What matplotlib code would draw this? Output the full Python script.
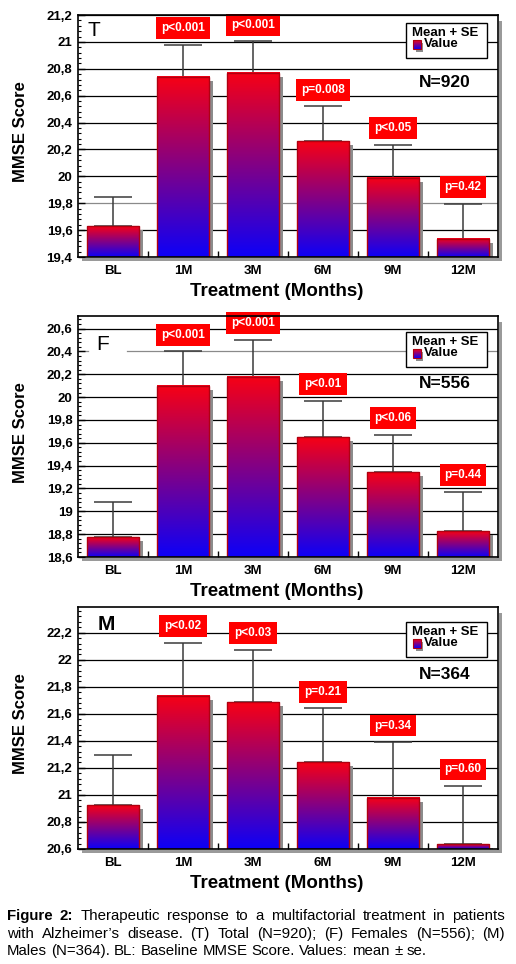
# Figure 2: MMSE score by treatment month, total / females / males

import numpy as np
import matplotlib
matplotlib.use('Agg')
import matplotlib.pyplot as plt
import matplotlib.transforms as mtransforms
from matplotlib.patches import Rectangle
from matplotlib.ticker import MultipleLocator

plt.rcParams['font.family'] = ['Liberation Sans', 'DejaVu Sans']

# Data
months = ['BL', '1M', '3M', '6M', '9M', '12M']

t_mean = [19.63, 20.74, 20.77, 20.26, 19.99, 19.535]
t_se = [0.22, 0.24, 0.235, 0.26, 0.245, 0.26]
t_p = ['', 'p<0.001', 'p<0.001', 'p=0.008', 'p<0.05', 'p=0.42']

f_mean = [18.775, 20.10, 20.18, 19.65, 19.34, 18.825]
f_se = [0.31, 0.30, 0.32, 0.32, 0.33, 0.345]
f_p = ['', 'p<0.001', 'p<0.001', 'p<0.01', 'p<0.06', 'p=0.44']

m_mean = [20.925, 21.735, 21.685, 21.24, 20.98, 20.635]
m_se = [0.37, 0.39, 0.39, 0.40, 0.41, 0.43]
m_p = ['', 'p<0.02', 'p<0.03', 'p=0.21', 'p=0.34', 'p=0.60']

W, H = 516, 964
DPI = 100
fig = plt.figure(figsize=(W / DPI, H / DPI), dpi=DPI)

# red (top) -> blue (bottom) gradient used for the bars
top_c = np.array([0.97, 0.0, 0.08])
bot_c = np.array([0.05, 0.0, 0.97])
tt = np.linspace(0, 1, 256)[:, None]
grad = (bot_c * (1 - tt) + top_c * tt)[:, None, :]


def ylab(v):
    s = f'{v:.1f}'.replace('.', ',')
    return s[:-2] if s.endswith(',0') else s


def panel(top_px, bot_px, means, ses, pvals, ylim, yticks, letter, letter_bold,
          letter_pos, n_text, legend_top, gray_lines):
    left_px, right_px = 78, 498
    ax = fig.add_axes([left_px / W, 1 - bot_px / H,
                       (right_px - left_px) / W, (bot_px - top_px) / H])
    aw, ah = right_px - left_px, bot_px - top_px
    fx = lambda px: px / aw
    fy = lambda px: 1 - px / ah

    x = np.arange(len(months))
    bw = 0.75
    shadow_tr = ax.transData + mtransforms.ScaledTranslation(3.5 / DPI, -4 / DPI, fig.dpi_scale_trans)

    # grid lines
    gray = {g[0]: g[1] for g in gray_lines}
    for yv in yticks:
        if yv <= ylim[0]:
            continue
        if yv in gray:
            for xmin, xmax in gray[yv]:
                ax.axhline(yv, xmin=xmin, xmax=xmax, color='#8a8a8a', lw=0.9, zorder=1)
        else:
            ax.axhline(yv, color='black', lw=0.9, zorder=1)

    for xi, m in zip(x, means):
        ax.add_patch(Rectangle((xi - bw / 2, ylim[0]), bw, m - ylim[0], fc='#8c8c8c',
                               ec='none', transform=shadow_tr, zorder=2))
        ax.imshow(grad, extent=[xi - bw / 2, xi + bw / 2, ylim[0], m], aspect='auto',
                  origin='lower', zorder=3, interpolation='bilinear')
        ax.add_patch(Rectangle((xi - bw / 2, ylim[0]), bw, m - ylim[0], fill=False,
                               ec='#b00010', lw=1.0, zorder=4))

    ax.errorbar(x, means, yerr=[np.zeros(len(means)), ses], fmt='none', ecolor='#3a3a3a',
                elinewidth=1.1, capsize=14, capthick=1.1, zorder=2.5)

    for xi, m, s, p in zip(x, means, ses, pvals):
        if p:
            ax.annotate(p, (xi, m + s), xytext=(0, 12), textcoords='offset points',
                        ha='center', va='center', color='white', fontweight='bold',
                        fontsize=8.5, zorder=6,
                        bbox=dict(boxstyle='square,pad=0.42', fc='#ff0000', ec='none'))

    ax.set_xlim(-0.5, 5.5)
    ax.set_ylim(*ylim)
    ax.set_aspect('auto')

    ax.set_yticks(yticks)
    ax.set_yticklabels([ylab(v) for v in yticks], fontweight='bold', fontsize=9.5)
    ax.yaxis.set_minor_locator(MultipleLocator(0.04))
    ax.tick_params(axis='y', which='major', direction='in', length=5, width=1, pad=4)
    ax.tick_params(axis='y', which='minor', direction='in', length=2.5, width=0.8)
    ax.set_xticks(x)
    ax.set_xticklabels(months, fontweight='bold', fontsize=9.5)
    ax.set_xticks(np.arange(0.5, 5.0, 1.0), minor=True)
    ax.tick_params(axis='x', which='major', length=0, pad=6)
    ax.tick_params(axis='x', which='minor', direction='in', length=4, width=1)
    for sp in ax.spines.values():
        sp.set_linewidth(1.2)
        sp.set_zorder(7)

    ax.text(fx(277 - left_px), fy(bot_px - top_px + 35), 'Treatment (Months)',
            transform=ax.transAxes, ha='center', va='center', fontsize=13.5, fontweight='bold')
    ax.text(-58 / aw, 0.518, 'MMSE Score', transform=ax.transAxes, rotation=90,
            ha='center', va='center', fontsize=12, fontweight='bold')

    ax.text(fx(letter_pos[0]), fy(letter_pos[1]), letter, transform=ax.transAxes,
            ha='left', va='center', fontsize=15,
            fontweight='bold' if letter_bold else 'normal', zorder=6)

    ax.text(fx(367), 0.72, n_text, transform=ax.transAxes, ha='center', va='center',
            fontsize=12.5, fontweight='bold', zorder=6)

    # legend box
    bx0, bx1 = 328, 409
    by0, by1 = legend_top, legend_top + 35
    ax.add_patch(Rectangle((fx(bx0), fy(by1)), fx(bx1 - bx0), (by1 - by0) / ah,
                           transform=ax.transAxes, fc='white', ec='black', lw=1.0, zorder=5))
    ax.text(fx(bx0 + 6), fy(by0 + 10), 'Mean + SE', transform=ax.transAxes,
            ha='left', va='center', fontsize=9.5, fontweight='bold', zorder=6)
    sq = [fx(bx0 + 7), fx(bx0 + 15), fy(by0 + 26), fy(by0 + 17)]
    sh_tr = ax.transAxes + mtransforms.ScaledTranslation(2.5 / DPI, -2.5 / DPI, fig.dpi_scale_trans)
    ax.add_patch(Rectangle((sq[0], sq[2]), sq[1] - sq[0], sq[3] - sq[2], transform=sh_tr,
                           fc='#8c8c8c', ec='none', zorder=5.5))
    ax.imshow(grad, extent=sq, transform=ax.transAxes, aspect='auto', origin='lower',
              zorder=5.7)
    ax.add_patch(Rectangle((sq[0], sq[2]), sq[1] - sq[0], sq[3] - sq[2],
                           transform=ax.transAxes, fill=False, ec='#b00010', lw=0.8, zorder=5.8))
    ax.text(fx(bx0 + 18), fy(by0 + 21), 'Value', transform=ax.transAxes,
            ha='left', va='center', fontsize=9.5, fontweight='bold', zorder=6)
    ax.set_xlim(-0.5, 5.5)
    ax.set_ylim(*ylim)

    # drop shadow of the plot frame
    fig.add_artist(Rectangle(((right_px + 1) / W, 1 - (bot_px + 4) / H), 3 / W,
                             (bot_px - top_px - 2) / H, transform=fig.transFigure,
                             fc='#9a9a9a', ec='none'))
    fig.add_artist(Rectangle(((left_px + 4) / W, 1 - (bot_px + 4) / H),
                             (right_px - left_px) / W, 3 / H, transform=fig.transFigure,
                             fc='#9a9a9a', ec='none'))
    return ax


panel(15, 257, t_mean, t_se, t_p, (19.4, 21.2), np.round(np.arange(19.4, 21.21, 0.2), 1),
      'T', False, (10, 16), 'N=920', 8, [(19.8, [(0, 1)])])
panel(316, 557, f_mean, f_se, f_p, (18.6, 20.71), np.round(np.arange(18.6, 20.61, 0.2), 1),
      'F', False, (18, 28), 'N=556', 16, [(20.4, [(0, 0.024), (0.117, 1)])])
panel(607, 849, m_mean, m_se, m_p, (20.6, 22.39), np.round(np.arange(20.6, 22.21, 0.2), 1),
      'M', True, (20, 18), 'N=364', 15, [])

# caption, justified like the journal text
cap_fs = 10.8
x0, x1 = 7, 505
fig.canvas.draw()
renderer = fig.canvas.get_renderer()
space_px = 0.278 * cap_fs * DPI / 72


def caption_line(words, y_px, justify, n_bold=0):
    texts = [fig.text(0, 1 - y_px / H, w, fontsize=cap_fs, va='baseline',
                      fontweight='bold' if i < n_bold else 'normal')
             for i, w in enumerate(words)]
    widths = [t.get_window_extent(renderer).width for t in texts]
    gap = (x1 - x0 - sum(widths)) / (len(words) - 1) if justify else space_px
    xp = x0
    for t, w in zip(texts, widths):
        t.set_x(xp / W)
        xp += w + gap


caption_line('Figure 2: Therapeutic response to a multifactorial treatment in patients'.split(),
             920, True, n_bold=2)
caption_line('with Alzheimer’s disease. (T) Total (N=920); (F) Females (N=556); (M)'.split(),
             938, True)
caption_line('Males (N=364). BL: Baseline MMSE Score. Values: mean ± se.'.split(), 955, False)

fig.savefig('out.png', dpi=DPI)
